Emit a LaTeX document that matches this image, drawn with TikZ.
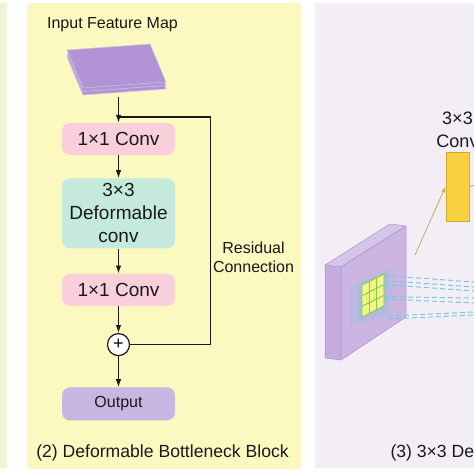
\documentclass[tikz,border=0pt]{standalone}
\usepackage{fontspec}
\setmainfont{Liberation Sans}
\usetikzlibrary{positioning,arrows.meta,calc}

\definecolor{panelyellow}{RGB}{251,248,192}
\definecolor{panellilac}{RGB}{243,238,246}
\definecolor{panelgreen}{RGB}{236,245,214}
\definecolor{convpink}{RGB}{248,207,219}
\definecolor{deformteal}{RGB}{197,234,221}
\definecolor{outlilac}{RGB}{201,182,226}
\definecolor{fmapviolet}{RGB}{178,147,214}
\definecolor{slabfront}{RGB}{204,181,226}
\definecolor{slabside}{RGB}{196,172,220}
\definecolor{slabtop}{RGB}{214,197,234}
\definecolor{slabedge}{RGB}{170,146,200}
\definecolor{kernelgold}{RGB}{249,210,66}
\definecolor{kernelrim}{RGB}{212,168,40}
\definecolor{offsettan}{RGB}{200,170,105}
\definecolor{gridfill}{RGB}{240,245,140}
\definecolor{gridline}{RGB}{140,200,60}
\definecolor{samplecyan}{RGB}{125,198,224}
\definecolor{inkdark}{RGB}{25,25,25}

\begin{document}
\begin{tikzpicture}[
  x=1pt, y=-1pt,
  font=\fontsize{16}{19}\selectfont,
  block/.style={rounded corners=8pt, minimum width=113pt, inner sep=0pt, align=center, text=inkdark, font=\fontsize{19}{23}\selectfont},
  arr/.style={-{Latex[length=8pt,width=5.5pt]}, line width=1.2pt, color=inkdark},
  link/.style={line width=1.2pt, color=inkdark},
  caption/.style={text=inkdark, font=\fontsize{17.6}{21}\selectfont},
  offarr/.style={-{Latex[length=6pt,width=4pt]}, line width=0.8pt, color=offsettan},
  slab/.style={draw=slabedge, line width=0.5pt},
  sample/.style={samplecyan, line width=1pt, dash pattern=on 5pt off 3pt}
]
\useasboundingbox (0,0) rectangle (474,474);
\clip (0,0) rectangle (474,474);

% panels
\fill[white] (0,0) rectangle (474,474);
\fill[panelgreen] (0,3) rectangle (7,468);
\fill[panelyellow] (27,3) rectangle (301,469);
\fill[panellilac] (315,3) rectangle (474,468);

% input feature map
\node[text=inkdark] (fmaplabel) at (112.5,25) {Input Feature Map};
\foreach \dy in {7,3.5,0}
  \filldraw[fill=fmapviolet, draw=fmapviolet!55!white, line width=0.5pt, shift={(0,\dy)}]
    (67,50) -- (150,44) -- (166,82) -- (83,88) -- cycle;
\coordinate (fmap) at (118.5,97);
\coordinate (split) at (118.5,117);

% nodes
\node[block, fill=convpink, minimum height=32pt] (conva) at (118.5,139) {1×1 Conv};
\node[block, fill=deformteal, minimum height=70pt, below=23pt of conva] (deform) {3×3\\Deformable\\conv};
\node[block, fill=convpink, minimum height=32pt, below=25pt of deform] (convb) {1×1 Conv};
\node[circle, draw=inkdark, line width=1.2pt, fill=white, minimum size=22pt, inner sep=0pt,
  font=\fontsize{18}{18}\selectfont, below=27pt of convb] (plus) {+};
\node[block, fill=outlilac, minimum height=33pt, font=\fontsize{16}{19}\selectfont, below=31pt of plus] (out) {Output};
\node[text=inkdark, align=center] (reslabel) at (253.5,257.5) {Residual\\Connection};
\node[caption] (capyellow) at (162.5,453) {(2) Deformable Bottleneck Block};

% arrows
\draw[arr] (fmap) -- (conva);
\draw[arr] (conva) -- (deform);
\draw[arr] (deform) -- (convb);
\draw[arr] (convb) -- (plus);
\draw[arr] (plus) -- (out);
\draw[link] (split) -- ++(92,0) |- (plus);

% input slab with sampling grid
\filldraw[slab, fill=slabside] (325,265) -- (341,267) -- (341,360) -- (325,358) -- cycle;
\filldraw[slab, fill=slabtop] (325,265) -- (390,224) -- (406,226) -- (341,267) -- cycle;
\filldraw[slab, fill=slabfront] (341,267) -- (406,226) -- (406,317) -- (341,360) -- cycle;

\coordinate (gtl) at (362,285);
\coordinate (gtr) at (384,274);
\coordinate (gbr) at (384,306);
\coordinate (gbl) at (362,317);
\fill[samplecyan, opacity=0.18] (350,286) -- (392,266) -- (392,314) -- (350,328) -- cycle;
\fill[samplecyan, opacity=0.25] (358,284) -- (388,270) -- (388,310) -- (358,321) -- cycle;
\filldraw[fill=gridfill, draw=gridline, line width=0.8pt] (gtl) -- (gtr) -- (gbr) -- (gbl) -- cycle;
\foreach \t in {0.333,0.667} {
  \draw[gridline, line width=0.8pt] ($(gtl)!\t!(gtr)$) -- ($(gbl)!\t!(gbr)$);
  \draw[gridline, line width=0.8pt] ($(gtl)!\t!(gbl)$) -- ($(gtr)!\t!(gbr)$);
}
\draw[gridline, line width=0.5pt, opacity=0.7, shift={(2,1.5)}]
  ($(gtl)!0.333!(gtr)!0.333!(gbl)$) -- ++(7.3,-3.7) -- ++(0,10.7) -- ++(-7.3,3.7) -- cycle;

% sampling lines
\foreach \xa/\ya/\yb in {384/275.5/282, 384/280.5/287, 384/284.5/291, 384/296.7/298,
                         384/299/303, 388/316/312, 388/319/315}
  \draw[sample] (\xa,\ya) -- (474,\yb);

% offset branch
\node[font=\fontsize{18}{23}\selectfont, text=inkdark, align=center] (offlabel) at (457.5,129.5) {3×3\\Conv};
\node[draw=kernelrim, fill=kernelgold, line width=0.8pt, minimum width=23pt, minimum height=69pt, inner sep=0pt] (offconv) at (457.5,186.5) {};
\coordinate (offtail) at (415,255);
\coordinate (offout) at (474,185.5);
\draw[offarr] (offtail) -- (offconv.west);
\draw[offsettan!70!gray, line width=0.8pt] (offconv.east) -- (offout);

\node[caption, anchor=west] (caplilac) at (387,453) {(3) 3×3 Def};

\end{tikzpicture}
\end{document}
